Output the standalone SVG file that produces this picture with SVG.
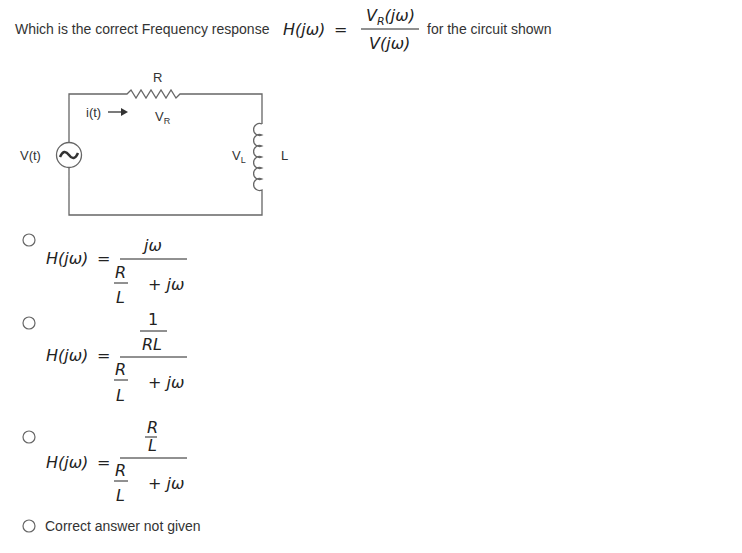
<svg xmlns="http://www.w3.org/2000/svg" width="742" height="553" viewBox="0 0 742 553">
<style>
.t{font-family:"Liberation Sans",Arial,sans-serif;font-size:14px;fill:#333}
.c{font-family:"Liberation Sans",Arial,sans-serif;font-size:13px;fill:#333}
.m{font-family:"DejaVu Sans",sans-serif;font-size:16px;fill:#222;font-style:italic}
.n{font-family:"DejaVu Sans",sans-serif;font-size:16px;fill:#222}
.w{fill:none;stroke:#666;stroke-width:1.3}
.ln{stroke:#222;stroke-width:1}
.rb{fill:#fff;stroke:#666;stroke-width:1.2}
</style>
<rect width="742" height="553" fill="#fff"/>
<g id="question">
<text class="t" x="15" y="34">Which is the correct Frequency response</text>
<text class="m" x="283" y="35">H(jω)</text><text class="n" x="334" y="35">=</text>
<text class="m" x="366" y="21">V<tspan font-size="11" dy="4">R</tspan><tspan dy="-4">(jω)</tspan></text>
<line class="ln" x1="361" y1="29" x2="419" y2="29"/>
<text class="m" x="369" y="49">V(jω)</text>
<text class="t" x="427" y="34">for the circuit shown</text>
</g>
<g id="circuit">
<path class="w" d="M69,143 V94 H127 l4,-4 l5,8 l5,-8 l5,8 l5,-8 l5,8 l5,-8 l5,8 l5,-8 l5,8 l4,-4 H262 V124"/>
<path class="w" d="M262,124 a6,6 0 1 0 0,11 a6,6 0 1 0 0,11 a6,6 0 1 0 0,11 a6,6 0 1 0 0,11 a6,6 0 1 0 0,11 a6,6 0 1 0 0,11 V215 H69 V168"/>
<circle cx="69" cy="155" r="12.5" fill="#fff" stroke="#666" stroke-width="1.3"/>
<path d="M60,157 q4,-9 9,-2 q5,7 9,-2" fill="none" stroke="#333" stroke-width="2.5"/>
<text class="c" x="20" y="160">V(t)</text>
<text class="c" x="86" y="117">i(t)</text>
<path d="M108,112 h14" stroke="#333" stroke-width="1.3"/><path d="M121,108 l7,4 l-7,4z" fill="#333"/>
<text class="c" x="153" y="82">R</text>
<text class="c" x="155" y="121">V<tspan font-size="9" dy="3">R</tspan></text>
<text class="c" x="232" y="160">V<tspan font-size="9" dy="3">L</tspan></text>
<text class="c" x="281" y="160">L</text>
</g>
<g id="opt1">
<circle class="rb" cx="29" cy="240" r="6"/>
<text class="m" x="46" y="264">H(jω)</text><text class="n" x="97" y="264">=</text>
<text class="m" x="144" y="251">jω</text>
<line class="ln" x1="120" y1="259" x2="187" y2="259"/>
<text class="m" x="115" y="278">R</text><line class="ln" x1="114" y1="283" x2="128" y2="283"/><text class="m" x="116" y="303">L</text>
<text class="m" x="148" y="290">+ jω</text>
</g>
<g id="opt2">
<circle class="rb" cx="29" cy="323" r="6"/>
<text class="m" x="46" y="361">H(jω)</text><text class="n" x="97" y="361">=</text>
<text class="n" x="148" y="325">1</text>
<line class="ln" x1="140" y1="331" x2="167" y2="331"/>
<text class="m" x="142" y="350">RL</text>
<line class="ln" x1="120" y1="357" x2="187" y2="357"/>
<text class="m" x="115" y="375">R</text><line class="ln" x1="114" y1="380" x2="128" y2="380"/><text class="m" x="116" y="401">L</text>
<text class="m" x="148" y="388">+ jω</text>
</g>
<g id="opt3">
<circle class="rb" cx="29" cy="437" r="6"/>
<text class="m" x="46" y="468">H(jω)</text><text class="n" x="97" y="468">=</text>
<text class="m" x="147" y="433" font-size="10">R</text><line class="ln" x1="145" y1="437" x2="157" y2="437"/><text class="m" x="148" y="451" font-size="10">L</text>
<line class="ln" x1="120" y1="458" x2="187" y2="458"/>
<text class="m" x="115" y="476">R</text><line class="ln" x1="114" y1="481" x2="128" y2="481"/><text class="m" x="116" y="501">L</text>
<text class="m" x="148" y="489">+ jω</text>
</g>
<g id="opt4">
<circle class="rb" cx="29" cy="526" r="6"/>
<text class="t" x="45" y="531">Correct answer not given</text>
</g>
</svg>
